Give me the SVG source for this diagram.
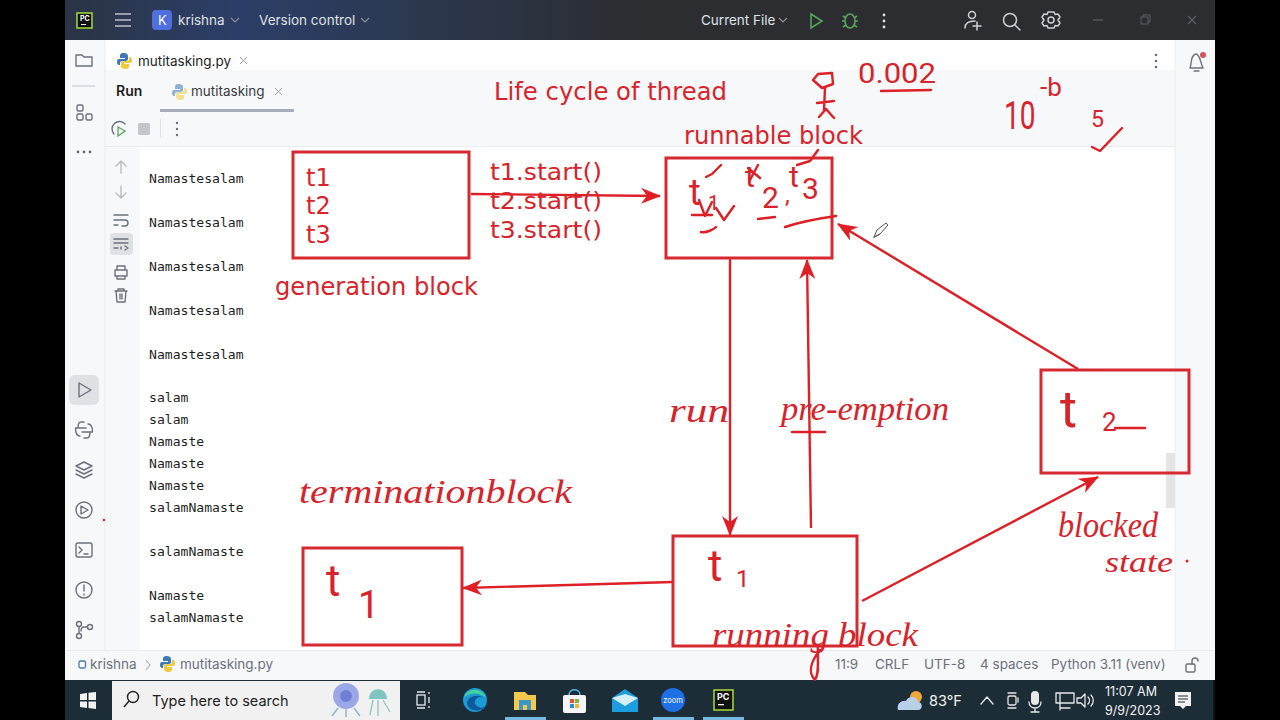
<svg xmlns="http://www.w3.org/2000/svg" width="1280" height="720" viewBox="0 0 1280 720">
<style>
.ui{font-family:"Inter","Noto Sans","Liberation Sans",sans-serif}
.tb{fill:#dfe1e5;font-size:13.5px}
.con{font-family:"DejaVu Sans Mono","Liberation Mono",monospace;font-size:13.1px;fill:#1e1f22}
.st{fill:#6c707e;font-size:13.5px}
.ink{font-family:"DejaVu Sans","Liberation Sans",sans-serif;fill:#d8232a}
.hand{font-family:"Liberation Serif",serif;font-style:italic;fill:#d8232a}
.hand2{font-family:"Roboto","Liberation Sans",sans-serif;font-weight:400;fill:#d8232a}
.box{fill:none;stroke:#d62a30;stroke-width:3}
.wire{fill:none;stroke:#dd2025;stroke-width:2.4}
.mark{fill:none;stroke:#dd2025;stroke-width:2.4;stroke-linecap:round;stroke-linejoin:round}
.ic{fill:none;stroke:#6c707e;stroke-width:1.4;stroke-linecap:round;stroke-linejoin:round}
.tic{fill:none;stroke:#ced0d6;stroke-width:1.5;stroke-linecap:round;stroke-linejoin:round}
.wh{fill:none;stroke:#e8e8e8;stroke-width:1.3;stroke-linecap:round;stroke-linejoin:round}
</style>
<defs>
<linearGradient id="bar" x1="0" x2="1" y1="0" y2="0"><stop offset="0" stop-color="#2b3445"/><stop offset=".15" stop-color="#2c3e68"/><stop offset=".3" stop-color="#2c3850"/><stop offset=".5" stop-color="#2b2d30"/></linearGradient>
<marker id="ah" viewBox="0 0 20 16" refX="19" refY="8" markerWidth="20" markerHeight="16" markerUnits="userSpaceOnUse" orient="auto"><path d="M0 0L20 8L0 16L6 8Z" fill="#e01f24"/></marker>
<g id="py"><path d="M7 0C3 0 3 2 3 3V5H8V6H2C0 6 0 8 0 9C0 11 1 12 2 12H3V10C3 9 4 8 5 8H9C10 8 11 7 11 6V3C11 1 9 0 7 0Z" fill="#3d7ab5"/><path d="M8 16C12 16 12 14 12 13V11H7V10H13C15 10 15 8 15 7C15 5 14 4 13 4H12V6C12 7 11 8 10 8H6C5 8 4 9 4 10V13C4 15 6 16 8 16Z" fill="#f0c93d"/></g>
</defs>
<rect width="1280" height="720" fill="#000"/>
<g id="titlebar">
<rect x="65" y="0" width="1150" height="40" fill="url(#bar)"/>
<rect x="77" y="13" width="15" height="15" fill="#111" stroke="#9fdc3c" stroke-width="1.5"/>
<text x="80" y="21" class="ui" font-size="7" font-weight="700" fill="#fff">PC</text>
<rect x="81" y="24" width="5" height="1" fill="#fff"/>
<path d="M115 14H131M115 20H131M115 26H131" stroke="#b9bec8" stroke-width="1.6"/>
<rect x="152" y="10" width="20" height="20" rx="4" fill="#4e6fdc"/>
<text x="158" y="25" class="ui" font-size="13" fill="#fff">K</text>
<text x="178" y="25" class="ui tb">krishna</text>
<path d="M231 18L235 22L239 18M361 18L365 22L369 18M779 18L783 22L787 18" fill="none" stroke="#8b8f98" stroke-width="1.2"/>
<text x="259" y="25" class="ui tb">Version control</text>
<text x="701" y="25" class="ui tb">Current File</text>
<path d="M811 14L822 21L811 28Z" fill="none" stroke="#57a55c" stroke-width="1.6"/>
<g fill="none" stroke="#57a55c" stroke-width="1.6"><ellipse cx="850" cy="21" rx="5" ry="7"/><path d="M843 16L846 18M857 16L854 18M842 21H845M855 21H858M843 27L846 25M857 27L854 25"/></g>
<circle cx="884" cy="15" r="1.4" fill="#dfe1e5"/><circle cx="884" cy="21" r="1.4" fill="#dfe1e5"/><circle cx="884" cy="27" r="1.4" fill="#dfe1e5"/>
<g class="tic"><circle cx="972" cy="15" r="3.5"/><path d="M965 28C965 22 970 21 975 21M973 26H981M977 22V30"/><circle cx="1010" cy="20" r="6.5"/><path d="M1015 25L1020 30"/><circle cx="1051" cy="20" r="3"/><path d="M1048 12H1054L1055 14.500L1058 14L1060 17L1058 20L1060 23L1058 26L1055 25.500L1054 28H1048L1047 25.500L1044 26L1042 23L1044 20L1042 17L1044 14L1047 14.500Z"/></g>
<path d="M1093 20H1103" stroke="#5c5f66" stroke-width="1.2"/>
<rect x="1141" y="17" width="7" height="7" fill="none" stroke="#5c5f66"/><path d="M1143 17V15H1150V22H1148" fill="none" stroke="#5c5f66"/>
<path d="M1188 16L1196 24M1196 16L1188 24" stroke="#5c5f66" stroke-width="1.2"/>
</g>
<g id="ide">
<rect x="65" y="40" width="1150" height="610" fill="#fff"/>
<rect x="65" y="40" width="40" height="610" fill="#f7f8fa"/>
<rect x="105" y="70" width="1070" height="77" fill="#f7f8fa"/>
<rect x="105" y="147" width="35" height="503" fill="#f7f8fa"/>
<rect x="1175" y="40" width="40" height="610" fill="#f7f8fa"/>
<path d="M105 40V650M1175 40V650" stroke="#ebecf0"/>
<path d="M105 146.500H1175" stroke="#ebecf0"/>
<rect x="1166" y="453" width="9" height="55" fill="#e4e4e4"/>
<path d="M76 66V55H82L84 57H92V66Z" class="ic"/>
<path d="M72 86H95" stroke="#c9ccd6" stroke-width="1.2"/>
<g class="ic"><rect x="77" y="105" width="6" height="6" rx="1.500"/><rect x="77" y="114" width="6" height="6" rx="1.500"/><rect x="86" y="114" width="6" height="6" rx="1.500"/></g>
<circle cx="78" cy="152" r="1.4" fill="#6c707e"/><circle cx="84" cy="152" r="1.4" fill="#6c707e"/><circle cx="90" cy="152" r="1.4" fill="#6c707e"/>
<rect x="69" y="375" width="30" height="30" rx="6" fill="#dfe1e5"/>
<path d="M79 383L91 390L79 397Z" class="ic"/>
<g class="ic"><path d="M84 422H81C78 422 78 425 78 428H75.500C75.500 434 78 436 80 436M84 438H87C90 438 90 435 90 432H92.500C92.500 426 90 424 88 424M78 428H86M90 432H82"/><path d="M84 462L92 466L84 470L76 466ZM76 470L84 474L92 470M76 474L84 478L92 474"/><circle cx="84" cy="510" r="8"/><path d="M81 506L88 510L81 514Z"/><rect x="76" y="543" width="16" height="14" rx="2"/><path d="M79 547L82 550L79 553M84 554H88"/><circle cx="84" cy="590" r="8"/><path d="M84 585V591M84 594V595"/><circle cx="79" cy="624" r="2.500"/><circle cx="79" cy="636" r="2.500"/><circle cx="90" cy="627" r="2.500"/><path d="M79 627V633M87 627H84C81 627 81 630 81 631"/></g>
<use href="#py" x="117" y="53"/>
<text x="138" y="66" class="ui" font-size="13.500" fill="#1e1f22">mutitasking.py</text>
<path d="M240 57L247 64M247 57L240 64" stroke="#9a9da5"/>
<circle cx="1156" cy="55" r="1.300" fill="#6c707e"/><circle cx="1156" cy="61" r="1.300" fill="#6c707e"/><circle cx="1156" cy="67" r="1.300" fill="#6c707e"/>
<path d="M1190 68C1192 64 1190 55 1196 54C1200 54 1200 62 1203 68ZM1194 71H1199" class="ic"/>
<circle cx="1203" cy="55" r="3" fill="#d8505c"/>
<text x="116" y="96" class="ui" font-size="14" font-weight="600" fill="#1e1f22">Run</text>
<use href="#py" x="172" y="84" opacity=".55"/>
<text x="191" y="96" class="ui" font-size="13.500" fill="#3a3c42">mutitasking</text>
<path d="M275 88L282 95M282 88L275 95" stroke="#9a9da5"/>
<rect x="160" y="109" width="134" height="3" fill="#a8adbd"/>
<path d="M125 124A7 7 0 1 0 114 134" class="ic"/>
<path d="M118 127L125 131L118 136Z" fill="none" stroke="#57a55c" stroke-width="1.300"/>
<rect x="138" y="123" width="12" height="12" rx="1.500" fill="#c4c6cc"/>
<path d="M160.500 119V138" stroke="#e0e1e6"/>
<circle cx="177" cy="123" r="1.200" fill="#6c707e"/><circle cx="177" cy="129" r="1.200" fill="#6c707e"/><circle cx="177" cy="135" r="1.200" fill="#6c707e"/>
<rect x="110" y="233" width="23" height="22" rx="4" fill="#dfe1e5"/>
<g class="ic"><path d="M121 161V173M116 166L121 161L126 166M121 186V198M116 193L121 198L126 193" stroke="#b8bbc4"/><path d="M114 215H128M114 220H125C129 220 129 226 125 226H122M114 225H118"/><path d="M114 239H128M114 243H128M121 247V249M114 248H118M125 246L128 248L125 250"/><path d="M117 270V266H125V270M115 270H127V276H115ZM117 276V279H125V276"/><path d="M115 291H127M118 291V289H124V291M116 291L117 302H125L126 291M120 294V299M122 294V299"/></g>
</g>
<g id="console">
<text x="149" y="182.500" class="con">Namastesalam</text>
<text x="149" y="226.500" class="con">Namastesalam</text>
<text x="149" y="270.500" class="con">Namastesalam</text>
<text x="149" y="314.500" class="con">Namastesalam</text>
<text x="149" y="358.500" class="con">Namastesalam</text>
<text x="149" y="402" class="con">salam</text>
<text x="149" y="424" class="con">salam</text>
<text x="149" y="446" class="con">Namaste</text>
<text x="149" y="468" class="con">Namaste</text>
<text x="149" y="490" class="con">Namaste</text>
<text x="149" y="512" class="con">salamNamaste</text>
<text x="149" y="556" class="con">salamNamaste</text>
<text x="149" y="600" class="con">Namaste</text>
<text x="149" y="622" class="con">salamNamaste</text>
</g>
<g id="statusbar">
<rect x="65" y="650" width="1150" height="30" fill="#f7f8fa"/>
<path d="M65 650.500H1215" stroke="#ebecf0"/>
<rect x="79" y="661" width="6.500" height="7" rx="1.500" fill="none" stroke="#4a7ab5" stroke-width="1.300"/>
<text x="90" y="669" class="ui st">krishna</text>
<path d="M146 660L150 665L146 670" fill="none" stroke="#9a9da5"/>
<use href="#py" x="160" y="656"/>
<text x="180" y="669" class="ui st">mutitasking.py</text>
<text x="835" y="669" class="ui st">11:9</text>
<text x="875" y="669" class="ui st">CRLF</text>
<text x="924" y="669" class="ui st">UTF-8</text>
<text x="980" y="669" class="ui st">4 spaces</text>
<text x="1051" y="669" class="ui st">Python 3.11 (venv)</text>
<rect x="1186" y="664" width="9" height="8" rx="1.500" class="ic"/><path d="M1192 664V661C1192 657 1198 657 1198 661" class="ic"/>
</g>
<g id="taskbar">
<rect x="65" y="680" width="1150" height="40" fill="#1c2d38"/>
<rect x="1213" y="680" width="2" height="40" fill="#0b1218"/>
<path d="M80 694L87 693V700H80ZM88.500 692.800L96 692V700H88.500ZM80 701.500H87V708L80 707ZM88.500 701.500H96V709L88.500 708Z" fill="#f2f2f2"/>
<rect x="112" y="681" width="288" height="39" fill="#f1f1f1"/>
<circle cx="133" cy="697" r="5.500" fill="none" stroke="#222" stroke-width="1.400"/><path d="M129 701L124 707" stroke="#222" stroke-width="1.400"/>
<text x="152" y="706" class="ui" font-size="14.500" fill="#222">Type here to search</text>
<circle cx="346" cy="696" r="13" fill="#9aa8e8"/><circle cx="346" cy="696" r="6" fill="#6f7fd8"/>
<path d="M338 708L332 716M346 709V717M354 708L360 716" stroke="#8fb7c8" stroke-width="1.500" fill="none"/>
<path d="M369 699C369 686 387 686 387 699Z" fill="#7fc6c0"/>
<path d="M373 700L370 715M378 700V716M383 700L390 712" stroke="#8fc4c4" stroke-width="1.300" fill="none"/>
<g fill="none" stroke="#e8e8e8" stroke-width="1.300"><rect x="417" y="695" width="8" height="10"/><path d="M417 692H425M417 708H425M429 692V694M429 697V703M429 706V708"/></g>
<circle cx="475" cy="700" r="12" fill="#1b9ad6"/><path d="M467 704C467 695 481 693 486 700C484 696 476 696 475 701C474 706 480 709 485 707C480 712 470 712 467 704Z" fill="#0a5a9c"/><path d="M464 698C466 688 482 686 486 698C480 692 468 692 464 698Z" fill="#45d19a"/>
<path d="M514 692H525L528 695H536V710H514Z" fill="#f2c94c"/><rect x="519" y="700" width="12" height="10" fill="#3f96c8"/><rect x="523" y="705" width="4" height="5" fill="#f2c94c"/>
<rect x="505" y="717" width="41" height="3" fill="#76b9e0"/>
<rect x="563" y="695" width="23" height="18" rx="2" fill="#f5f5f5"/><path d="M569 695C569 688 580 688 580 695" fill="none" stroke="#58b5e8" stroke-width="1.500"/>
<rect x="570" y="699" width="4" height="4" fill="#e8503a"/><rect x="575" y="699" width="4" height="4" fill="#7db83a"/><rect x="570" y="704" width="4" height="4" fill="#2d8fd6"/><rect x="575" y="704" width="4" height="4" fill="#f4b82e"/>
<path d="M612 698L625 689L638 698V712H612Z" fill="#1a9ee0"/><path d="M612 698L625 706L638 698L625 694Z" fill="#d6eefa"/>
<circle cx="673" cy="700" r="12" fill="#1f6fe5"/>
<text x="673" y="703" text-anchor="middle" class="ui" font-size="7.500" fill="#fff">zoom</text>
<rect x="653" y="717" width="41" height="3" fill="#76b9e0"/>
<rect x="714" y="690" width="19" height="20" fill="#111" stroke="#a7dd3a" stroke-width="1.500"/>
<text x="717" y="700" class="ui" font-size="9" font-weight="700" fill="#fff">PC</text><rect x="718" y="704" width="6" height="1.300" fill="#fff"/>
<rect x="703" y="717" width="41" height="3" fill="#76b9e0"/>
<circle cx="916" cy="697" r="6" fill="#f0a83a"/>
<path d="M898 710C896 703 903 700 906 701C908 695 918 696 918 702C923 702 923 710 918 710Z" fill="#b9d0e8"/>
<text x="929" y="706" class="ui" font-size="14.500" fill="#f2f2f2">83°F</text>
<path d="M981 704L987 697L993 704" class="wh"/>
<g class="wh"><rect x="1008" y="696" width="8" height="9" rx="1.500"/><path d="M1008 693H1016M1008 708H1016M1018 698V702"/><path d="M1058 693H1056V703H1074V693H1058M1060 693V710M1060 708H1070"/><path d="M1077 698H1081L1085 694V707L1081 703H1077ZM1088 697C1090 699 1090 702 1088 704M1091 695C1094 698 1094 703 1091 706"/></g>
<rect x="1031" y="691" width="8" height="14" rx="4" fill="#e8e8e8"/><path d="M1029 702C1029 710 1041 710 1041 702M1035 708V712M1031 712H1039" class="wh"/>
<text x="1105" y="696" class="ui" font-size="12.500" fill="#f2f2f2">11:07 AM</text>
<text x="1105" y="715" class="ui" font-size="12.500" fill="#f2f2f2">9/9/2023</text>
<path d="M1175 692H1191V706H1186L1183 709L1180 706H1175Z" fill="#f2f2f2"/><path d="M1178 696H1188M1178 699H1188M1178 702H1185" stroke="#1c2d38"/>
</g>
<g id="connectors">
<path class="wire" marker-end="url(#ah)" d="M471 194L660 196"/>
<path class="wire" marker-end="url(#ah)" d="M730 258L730 535"/>
<path class="wire" marker-end="url(#ah)" d="M811 528L807 260"/>
<path class="wire" marker-end="url(#ah)" d="M673 582L463 588"/>
<path class="wire" marker-end="url(#ah)" d="M1078 369L838 224"/>
<path class="wire" marker-end="url(#ah)" d="M862 601L1098 477"/>
</g>
<text x="494" y="100" class="ink" font-size="24.500" textLength="233" lengthAdjust="spacingAndGlyphs">Life cycle of thread</text>
<g id="generation">
<rect class="box" x="293" y="152" width="176" height="106"/>
<text x="306" y="186" class="ink" font-size="24">t1</text>
<text x="306" y="214" class="ink" font-size="24">t2</text>
<text x="306" y="243" class="ink" font-size="24">t3</text>
<text x="275" y="295" class="ink" font-size="24.500" textLength="203" lengthAdjust="spacingAndGlyphs">generation block</text>
<text x="490" y="180" class="ink" font-size="23" textLength="112" lengthAdjust="spacingAndGlyphs">t1.start()</text>
<text x="490" y="209" class="ink" font-size="23" textLength="112" lengthAdjust="spacingAndGlyphs">t2.start()</text>
<text x="490" y="238" class="ink" font-size="23" textLength="112" lengthAdjust="spacingAndGlyphs">t3.start()</text>
</g>
<g id="runnable">
<rect class="box" x="666" y="158" width="166" height="100"/>
<text x="684" y="144" class="ink" font-size="24.500" textLength="179" lengthAdjust="spacingAndGlyphs">runnable block</text>
<text class="hand2" font-size="36"><tspan x="689" y="205">t</tspan><tspan x="708" y="210" font-size="20">1</tspan><tspan x="745" y="187" font-size="30">t</tspan><tspan x="762" y="208" font-size="30">2</tspan><tspan x="785" y="203" font-size="24">,</tspan><tspan x="789" y="187" font-size="30">t</tspan><tspan x="802" y="199" font-size="30">3</tspan></text>
<path class="mark" d="M706 177L712 174L721 165M692 215H712M699 200L705 216L712 202M716 208L724 220L734 206M701 232C706 233 713 230 716 227M758 219L775 217M785 227C800 222 815 219 836 216M748 168L760 178M758 165L750 180M797 165L810 161L818 150"/>
</g>
<g id="figure-notes">
<path class="mark" d="M818 74L832 73L833 84L822 88L813 80ZM825 88L824 110M817 103L834 101M819 117L826 109L834 118M881 91L931 90M1092 147L1100 151L1122 128"/>
<text x="858" y="83" class="hand2" font-size="27" textLength="78" lengthAdjust="spacingAndGlyphs">0.002</text>
<text transform="translate(1004 129) scale(1 1.400)" class="hand2" font-size="28">10</text>
<text x="1040" y="96" class="hand2" font-size="26">-b</text>
<text x="1091" y="127" class="hand2" font-size="23">5</text>
<path class="mark" d="M874 237L877 230L886 223L888 225L880 234ZM874 237L880 234" style="stroke:#555;stroke-width:1"/>
<circle cx="104" cy="520" r="1.200" fill="#dd2025"/><circle cx="1187" cy="561" r="1.500" fill="#dd2025"/>
</g>
<g id="blocked">
<rect class="box" x="1041" y="370" width="148" height="103"/>
<text class="hand2" font-size="52"><tspan x="1060" y="427">t</tspan><tspan x="1102" y="431" font-size="26">2</tspan></text>
<path class="mark" d="M1115 428H1145"/>
<text x="1058" y="537" class="hand" font-size="36" textLength="100" lengthAdjust="spacingAndGlyphs">blocked</text>
<text x="1105" y="572" class="hand" font-size="30" textLength="68" lengthAdjust="spacingAndGlyphs">state</text>
</g>
<g id="running">
<rect class="box" x="673" y="536" width="184" height="110"/>
<text class="hand2" font-size="44"><tspan x="708" y="581">t</tspan><tspan x="736" y="587" font-size="24">1</tspan></text>
<text x="712" y="646" class="hand" font-size="34" textLength="206" lengthAdjust="spacingAndGlyphs">running block</text>
<path class="mark" d="M820 650C812 660 807 672 815 680C820 672 817 660 818 645"/>
</g>
<g id="terminated">
<rect class="box" x="303" y="548" width="159" height="97"/>
<text class="hand2" font-size="44"><tspan x="326" y="596">t</tspan><tspan x="358" y="618" font-size="38">1</tspan></text>
<text x="299" y="503" class="hand" font-size="34" textLength="273" lengthAdjust="spacingAndGlyphs">terminationblock</text>
</g>
<g id="labels">
<text x="669" y="422" class="hand" font-size="34" textLength="60" lengthAdjust="spacingAndGlyphs">run</text>
<text x="781" y="420" class="hand" font-size="34" textLength="168" lengthAdjust="spacingAndGlyphs">pre-emption</text>
<path class="mark" d="M792 432H825"/>
</g>
</svg>
